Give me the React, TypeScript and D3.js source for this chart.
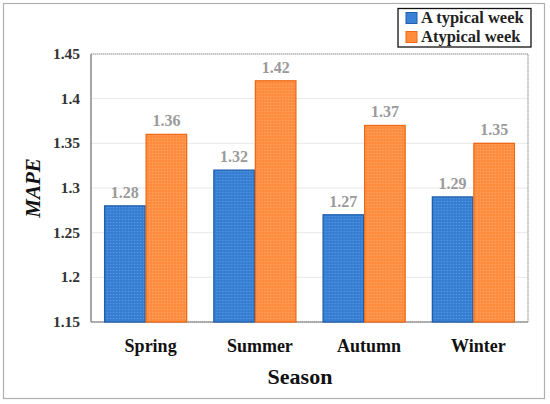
import React from 'react';
import * as d3 from 'd3';

const seasons = ['Spring', 'Summer', 'Autumn', 'Winter'];
const seriesNames = ['A typical week', 'Atypical week'];
const typicalWeek = [1.28, 1.32, 1.27, 1.29];
const atypicalWeek = [1.36, 1.42, 1.37, 1.35];
const yTicks = [1.15, 1.2, 1.25, 1.3, 1.35, 1.4, 1.45];

const W = 550;
const H = 404;
const m = { left: 91, right: 22, top: 54, bottom: 82 };
const txt = { fontFamily: 'Liberation Serif', fontWeight: 'bold' as const };

const fills = ['url(#dotBlue)', 'url(#dotOrange)'];
const strokes = ['#1f5fae', '#ee6a14'];
const swatch = ['#3a82d6', '#ff8d3c'];

const App = () => {
  const x0 = d3.scaleBand<string>()
    .domain(seasons)
    .range([m.left, W - m.right])
    .paddingInner(0.24)
    .paddingOuter(0.12);
  const x1 = d3.scaleBand<number>()
    .domain([0, 1])
    .range([0, x0.bandwidth()]);
  const y = d3.scaleLinear()
    .domain([1.15, 1.45])
    .range([H - m.bottom, m.top]);

  const series = [typicalWeek, atypicalWeek];

  return (
    <svg width={W} height={H} style={{ position: 'absolute', left: 0, top: 0, background: '#fff' }}>
      <defs>
        <pattern id="dotBlue" width="3" height="3" patternUnits="userSpaceOnUse">
          <rect width="3" height="3" fill="#3a82d6" />
          <rect x="0" y="0" width="1" height="1" fill="#5a9ae4" />
          <rect x="1.5" y="1.5" width="1" height="1" fill="#2a70c4" />
        </pattern>
        <pattern id="dotOrange" width="3" height="3" patternUnits="userSpaceOnUse">
          <rect width="3" height="3" fill="#ff8f42" />
          <rect x="0" y="0" width="1" height="1" fill="#ffaa6c" />
          <rect x="1.5" y="1.5" width="1" height="1" fill="#f88232" />
        </pattern>
      </defs>

      {/* outer frame */}
      <rect x={3.5} y={3.5} width={541} height={395} fill="none" stroke="#b0b0b0" strokeWidth={1.2} />

      {/* gridlines */}
      {yTicks.slice(1, -1).map(t => (
        <line key={t} x1={m.left} x2={W - m.right} y1={y(t)} y2={y(t)} stroke="#e8e8e8" strokeWidth={1} />
      ))}

      {/* plot border */}
      <rect x={m.left} y={m.top} width={W - m.left - m.right} height={H - m.top - m.bottom}
        fill="none" stroke="#8a8a8a" strokeWidth={1} strokeDasharray="1.5 0.5" />
      <line x1={m.left} x2={m.left} y1={m.top} y2={H - m.bottom} stroke="#888" strokeWidth={1.2} />
      <line x1={m.left} x2={W - m.right} y1={H - m.bottom} y2={H - m.bottom} stroke="#888" strokeWidth={1.2} />

      {/* bars */}
      {seasons.map((s, i) => (
        <g key={s} transform={`translate(${x0(s)},0)`}>
          {series.map((vals, k) => (
            <rect key={k} x={x1(k)! + 0.5} y={y(vals[i])} width={x1.bandwidth() - 1}
              height={y(1.15) - y(vals[i])} fill={fills[k]} stroke={strokes[k]} strokeWidth={1.3} />
          ))}
          {series.map((vals, k) => (
            <text key={'t' + k} x={x1(k)! + x1.bandwidth() / 2} y={y(vals[i]) - 8}
              textAnchor="middle" style={{ ...txt, fontSize: 16 }} fill="#9a9a9a">
              {vals[i].toFixed(2)}
            </text>
          ))}
        </g>
      ))}

      {/* y ticks */}
      {yTicks.map(t => (
        <text key={t} x={m.left - 11} y={y(t) + 5} textAnchor="end"
          style={{ ...txt, fontSize: 15.5 }} fill="#333">
          {d3.format('')(+t.toFixed(2))}
        </text>
      ))}

      {/* x labels */}
      {seasons.map(s => (
        <text key={s} x={x0(s)! + x0.bandwidth() / 2 + 5} y={352} textAnchor="middle"
          style={{ ...txt, fontSize: 18 }} fill="#111">
          {s}
        </text>
      ))}

      <text x={300} y={384} textAnchor="middle" style={{ ...txt, fontSize: 22 }} fill="#111">
        Season
      </text>
      <text transform={`translate(40,${(m.top + H - m.bottom) / 2}) rotate(-90)`} textAnchor="middle"
        style={{ ...txt, fontSize: 21, fontStyle: 'italic' }} fill="#111">
        MAPE
      </text>

      {/* legend */}
      <rect x={398} y={8.5} width={133} height={38.5} fill="#fff" stroke="#111" strokeWidth={1.3} />
      {seriesNames.map((n, k) => (
        <g key={n} transform={`translate(406,${18 + k * 19})`}>
          <rect x={0} y={-5.5} width={11} height={11} fill={swatch[k]} stroke={strokes[k]} strokeWidth={1} />
          <text x={15} y={5} style={{ ...txt, fontSize: 16.5 }} fill="#222">
            {n}
          </text>
        </g>
      ))}
    </svg>
  );
};

export default App;
